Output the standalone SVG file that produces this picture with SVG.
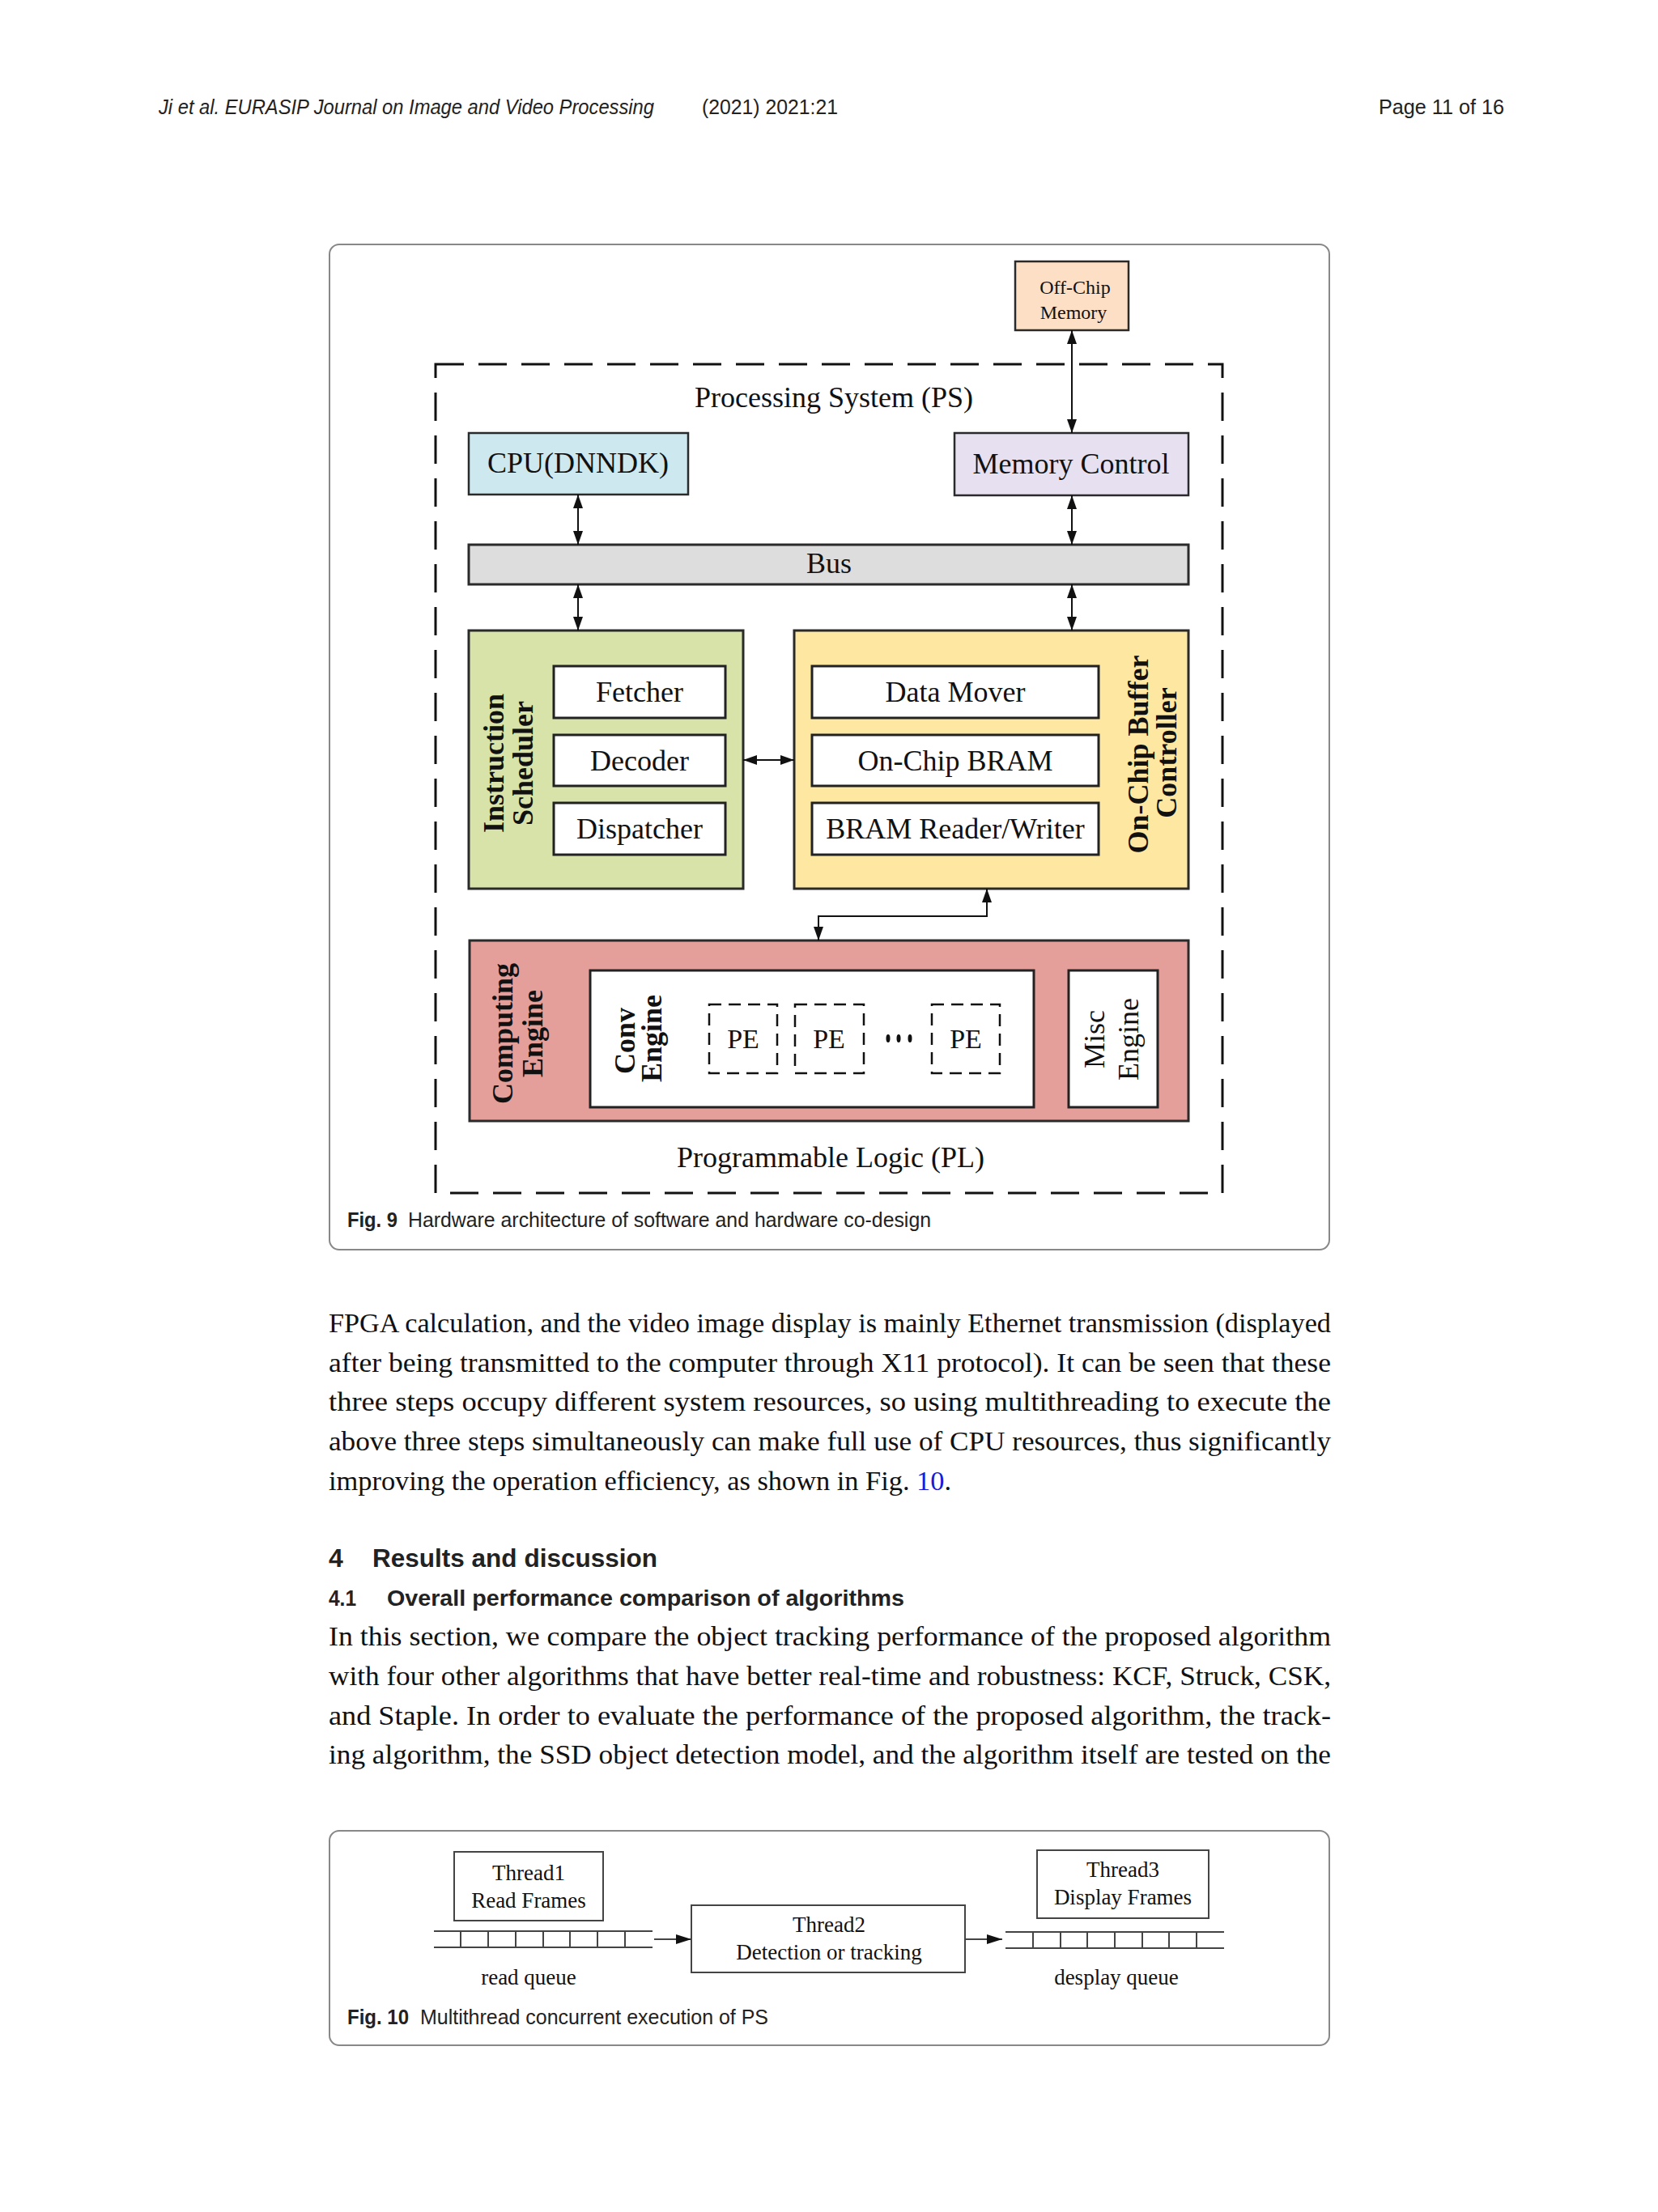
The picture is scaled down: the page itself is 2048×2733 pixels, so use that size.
<svg xmlns="http://www.w3.org/2000/svg" width="2048" height="2733" viewBox="0 0 2048 2733">
<style>
.serif{font-family:"Liberation Serif","Times New Roman",serif;fill:#111}
.sans{font-family:"Liberation Sans",Arial,sans-serif;fill:#222}
.box{stroke:#2a2a2a;stroke-width:2.5}
.thick{stroke:#2a2a2a;stroke-width:3}
.wb{fill:#fff;stroke:#222;stroke-width:3}
.conn{stroke:#111;stroke-width:2;fill:none}
.t36{font-size:36px;text-anchor:middle}
.b36{font-size:36px;font-weight:bold;text-anchor:middle}
.body{font-size:33px}
.tb{fill:#fff;stroke:#444;stroke-width:2}
.q{stroke:#444;stroke-width:2;fill:none}
.t27{font-size:27px;text-anchor:middle}
</style>
<defs>
<marker id="ah" viewBox="0 0 17 12" refX="17" refY="6" markerWidth="17" markerHeight="12" markerUnits="userSpaceOnUse" orient="auto-start-reverse"><path d="M0,0 L17,6 L0,12 z" fill="#111"/></marker>
<marker id="ah2" viewBox="0 0 19 12" refX="19" refY="6" markerWidth="19" markerHeight="12" markerUnits="userSpaceOnUse" orient="auto"><path d="M0,0 L19,6 L0,12 z" fill="#111"/></marker>
</defs>
<rect width="2048" height="2733" fill="#fff"/>

<!-- page header -->
<text class="sans" x="196" y="141" font-size="25" font-style="italic" textLength="612" lengthAdjust="spacingAndGlyphs">Ji et al. EURASIP Journal on Image and Video Processing</text>
<text class="sans" x="867" y="141" font-size="25" textLength="168" lengthAdjust="spacingAndGlyphs">(2021) 2021:21</text>
<text class="sans" x="1703" y="141" font-size="25" textLength="155" lengthAdjust="spacingAndGlyphs">Page 11 of 16</text>

<!-- Figure 9 -->
<rect x="407" y="302" width="1235" height="1242" rx="12" fill="none" stroke="#888" stroke-width="2"/>
<g id="ps-pl-boundary">
<rect x="538" y="450" width="972" height="1024" fill="none" stroke="#111" stroke-width="3" stroke-dasharray="35 18"/>
<text class="serif t36" x="1030" y="503">Processing System (PS)</text>
<text class="serif t36" x="1026" y="1442">Programmable Logic (PL)</text>
</g>

<g id="off-chip-memory">
<rect class="box" x="1254" y="323" width="140" height="85" fill="#fcdfc4" stroke-width="2"/>
<text class="serif" x="1328" y="363" font-size="24" text-anchor="middle">Off-Chip</text>
<text class="serif" x="1326" y="394" font-size="24" text-anchor="middle">Memory</text>
</g>
<g id="cpu">
<rect class="box" x="579" y="535" width="271" height="76" fill="#cde8ef" stroke-width="2"/>
<text class="serif t36" x="714" y="584">CPU(DNNDK)</text>
</g>
<g id="memory-control">
<rect class="box" x="1179" y="535" width="289" height="77" fill="#e6e0f0" stroke-width="2"/>
<text class="serif t36" x="1323" y="585">Memory Control</text>
</g>
<g id="bus">
<rect class="thick" x="579" y="673" width="889" height="49" fill="#dedddd"/>
<text class="serif t36" x="1024" y="708">Bus</text>
</g>

<g id="instruction-scheduler">
<rect class="thick" x="579" y="779" width="339" height="319" fill="#d7e3a9"/>
<text class="serif b36" transform="translate(622,943) rotate(-90)">Instruction</text>
<text class="serif b36" transform="translate(658,943) rotate(-90)">Scheduler</text>
</g>
<g id="fetcher"><rect class="wb" x="684" y="823" width="212" height="64"/><text class="serif t36" x="790" y="867">Fetcher</text></g>
<g id="decoder"><rect class="wb" x="684" y="908" width="212" height="63"/><text class="serif t36" x="790" y="952">Decoder</text></g>
<g id="dispatcher"><rect class="wb" x="684" y="992" width="212" height="64"/><text class="serif t36" x="790" y="1036">Dispatcher</text></g>

<g id="on-chip-buffer-controller">
<rect class="thick" x="981" y="779" width="487" height="319" fill="#fde7a1"/>
<text class="serif b36" transform="translate(1418,932) rotate(-90)">On-Chip Buffer</text>
<text class="serif b36" transform="translate(1453,930) rotate(-90)">Controller</text>
</g>
<g id="data-mover"><rect class="wb" x="1003" y="823" width="354" height="64"/><text class="serif t36" x="1180" y="867">Data Mover</text></g>
<g id="on-chip-bram"><rect class="wb" x="1003" y="908" width="354" height="63"/><text class="serif t36" x="1180" y="952">On-Chip BRAM</text></g>
<g id="bram-rw"><rect class="wb" x="1003" y="992" width="354" height="64"/><text class="serif t36" x="1180" y="1036">BRAM Reader/Writer</text></g>

<g id="computing-engine">
<rect class="thick" x="580" y="1162" width="888" height="223" fill="#e49f9a"/>
<text class="serif b36" transform="translate(633,1277) rotate(-90)">Computing</text>
<text class="serif b36" transform="translate(670,1277) rotate(-90)">Engine</text>
</g>
<g id="conv-engine">
<rect class="wb" x="729" y="1199" width="548" height="169"/>
<text class="serif b36" font-size="35" transform="translate(784,1286) rotate(-90)">Conv</text>
<text class="serif b36" font-size="35" transform="translate(817,1283) rotate(-90)">Engine</text>
</g>
<g id="pe1"><rect x="876" y="1241" width="84" height="85" fill="none" stroke="#111" stroke-width="2.5" stroke-dasharray="15 9"/><text class="serif" x="918" y="1295" font-size="34" text-anchor="middle">PE</text></g>
<g id="pe2"><rect x="982" y="1241" width="85" height="85" fill="none" stroke="#111" stroke-width="2.5" stroke-dasharray="15 9"/><text class="serif" x="1024" y="1295" font-size="34" text-anchor="middle">PE</text></g>
<g id="pe-dots" fill="#111"><ellipse cx="1097" cy="1283" rx="2.5" ry="5"/><ellipse cx="1110" cy="1283" rx="2.5" ry="5"/><ellipse cx="1124" cy="1283" rx="2.5" ry="5"/></g>
<g id="pe3"><rect x="1151" y="1241" width="84" height="85" fill="none" stroke="#111" stroke-width="2.5" stroke-dasharray="15 9"/><text class="serif" x="1193" y="1295" font-size="34" text-anchor="middle">PE</text></g>
<g id="misc-engine">
<rect class="wb" x="1320" y="1199" width="110" height="169"/>
<text class="serif t36" transform="translate(1364,1284) rotate(-90)">Misc</text>
<text class="serif t36" transform="translate(1406,1284) rotate(-90)">Engine</text>
</g>

<g id="connectors">
<line class="conn" x1="1324" y1="408" x2="1324" y2="535" marker-start="url(#ah)" marker-end="url(#ah)"/>
<line class="conn" x1="714" y1="611" x2="714" y2="673" marker-start="url(#ah)" marker-end="url(#ah)"/>
<line class="conn" x1="1324" y1="612" x2="1324" y2="673" marker-start="url(#ah)" marker-end="url(#ah)"/>
<line class="conn" x1="714" y1="722" x2="714" y2="779" marker-start="url(#ah)" marker-end="url(#ah)"/>
<line class="conn" x1="1324" y1="722" x2="1324" y2="779" marker-start="url(#ah)" marker-end="url(#ah)"/>
<line class="conn" x1="918" y1="939" x2="981" y2="939" marker-start="url(#ah)" marker-end="url(#ah)"/>
<path class="conn" d="M1219,1098 L1219,1132 L1011,1132 L1011,1162" marker-start="url(#ah)" marker-end="url(#ah)"/>
<line class="q" x1="808" y1="2396" x2="854" y2="2396" marker-end="url(#ah2)"/>
<line class="q" x1="1192" y1="2396" x2="1238" y2="2396" marker-end="url(#ah2)"/>
</g>

<text x="429" y="1516" class="sans" font-size="26" font-weight="bold" textLength="62" lengthAdjust="spacingAndGlyphs">Fig. 9</text>
<text x="504" y="1516" class="sans" font-size="26" fill="#333" textLength="646" lengthAdjust="spacingAndGlyphs">Hardware architecture of software and hardware co-design</text>

<!-- body text -->
<g class="serif body">
<text x="406" y="1646" textLength="1238" lengthAdjust="spacingAndGlyphs">FPGA calculation, and the video image display is mainly Ethernet transmission (displayed</text>
<text x="406" y="1695" textLength="1238" lengthAdjust="spacingAndGlyphs">after being transmitted to the computer through X11 protocol). It can be seen that these</text>
<text x="406" y="1743" textLength="1238" lengthAdjust="spacingAndGlyphs">three steps occupy different system resources, so using multithreading to execute the</text>
<text x="406" y="1792" textLength="1238" lengthAdjust="spacingAndGlyphs">above three steps simultaneously can make full use of CPU resources, thus significantly</text>
<text x="406" y="1841" textLength="769" lengthAdjust="spacingAndGlyphs">improving the operation efficiency, as shown in Fig. <tspan fill="#1a1ad6">10</tspan>.</text>
<text x="406" y="2033" textLength="1238" lengthAdjust="spacingAndGlyphs">In this section, we compare the object tracking performance of the proposed algorithm</text>
<text x="406" y="2082" textLength="1238" lengthAdjust="spacingAndGlyphs">with four other algorithms that have better real-time and robustness: KCF, Struck, CSK,</text>
<text x="406" y="2131" textLength="1238" lengthAdjust="spacingAndGlyphs">and Staple. In order to evaluate the performance of the proposed algorithm, the track-</text>
<text x="406" y="2179" textLength="1238" lengthAdjust="spacingAndGlyphs">ing algorithm, the SSD object detection model, and the algorithm itself are tested on the</text>
</g>
<text class="sans" x="406" y="1936" font-size="32" font-weight="bold" fill="#111">4</text>
<text class="sans" x="460" y="1936" font-size="32" font-weight="bold" fill="#111" textLength="352" lengthAdjust="spacingAndGlyphs">Results and discussion</text>
<text class="sans" x="406" y="1984" font-size="27" font-weight="bold" fill="#111" textLength="34" lengthAdjust="spacingAndGlyphs">4.1</text>
<text class="sans" x="478" y="1984" font-size="27" font-weight="bold" fill="#111" textLength="639" lengthAdjust="spacingAndGlyphs">Overall performance comparison of algorithms</text>

<!-- Figure 10 -->
<rect x="407" y="2262" width="1235" height="265" rx="12" fill="none" stroke="#888" stroke-width="2"/>
<g id="thread1">
<rect class="tb" x="561" y="2288" width="184" height="85"/>
<text class="serif t27" x="653" y="2323">Thread1</text>
<text class="serif t27" x="653" y="2357">Read Frames</text>
</g>
<g id="read-queue">
<path class="q" d="M536,2386 H806 M536,2406 H806 M569,2386 V2406 M603,2386 V2406 M637,2386 V2406 M671,2386 V2406 M704,2386 V2406 M738,2386 V2406 M772,2386 V2406"/>
<text class="serif t27" x="653" y="2452">read queue</text>
</g>
<g id="thread2">
<rect class="tb" x="854" y="2354" width="338" height="83"/>
<text class="serif t27" x="1024" y="2387">Thread2</text>
<text class="serif t27" x="1024" y="2421">Detection or tracking</text>
</g>
<g id="display-queue">
<path class="q" d="M1242,2387 H1512 M1242,2407 H1512 M1276,2387 V2407 M1310,2387 V2407 M1343,2387 V2407 M1377,2387 V2407 M1411,2387 V2407 M1444,2387 V2407 M1478,2387 V2407"/>
<text class="serif t27" x="1379" y="2452">desplay queue</text>
</g>
<g id="thread3">
<rect class="tb" x="1281" y="2286" width="212" height="84"/>
<text class="serif t27" x="1387" y="2319">Thread3</text>
<text class="serif t27" x="1387" y="2353">Display Frames</text>
</g>
<text x="429" y="2501" class="sans" font-size="26" font-weight="bold" textLength="76" lengthAdjust="spacingAndGlyphs">Fig. 10</text>
<text x="519" y="2501" class="sans" font-size="26" fill="#333" textLength="430" lengthAdjust="spacingAndGlyphs">Multithread concurrent execution of PS</text>
</svg>
